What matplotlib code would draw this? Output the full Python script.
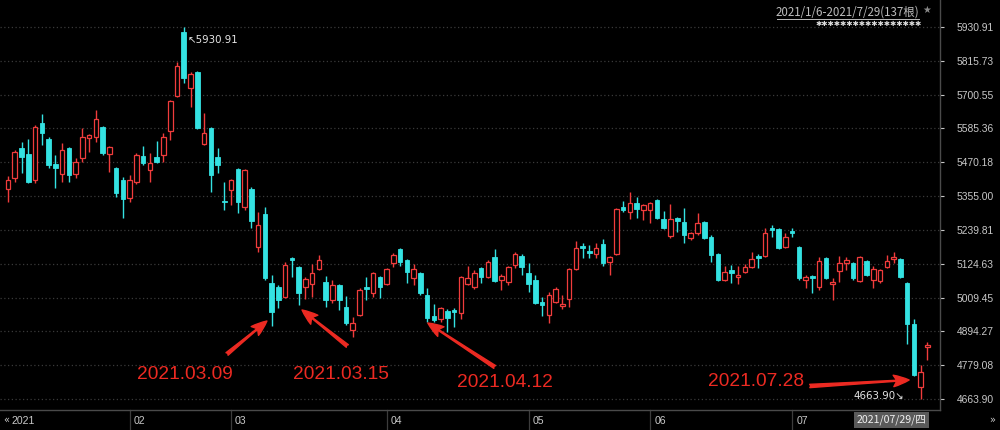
import matplotlib
matplotlib.use("Agg")
import matplotlib.pyplot as plt
import matplotlib.transforms as mtransforms
import numpy as np

# ---------------- data (CSI300 daily, 2021/1/6 - 2021/7/29, 137 bars) ----------------
opens = [5379.2, 5416.6, 5518.8, 5498.4, 5409.8, 5604.0, 5549.5, 5464.3, 5430.3, 5518.8,
         5430.3, 5484.8, 5552.9, 5556.3, 5590.3, 5498.4, 5450.7, 5409.8, 5348.5, 5403.0,
         5491.6, 5443.9, 5488.2, 5495.0, 5576.7, 5695.9, 5913.9, 5723.2, 5777.7, 5532.4,
         5586.9, 5488.2, 5338.3, 5375.8, 5447.3, 5317.9, 5379.2, 5181.6, 5294.0, 5059.0,
         5045.4, 5011.3, 5144.2, 5113.5, 5045.4, 5055.6, 5106.7, 5062.4, 5001.1, 5052.2,
         4977.3, 4898.9, 4950.0, 5045.4, 5024.9, 5079.4, 5055.6, 5127.1, 5174.8, 5137.3,
         5076.0, 5093.1, 5018.1, 4946.6, 4936.4, 4963.6, 4967.0, 4956.8, 5055.6, 5045.4,
         5110.1, 5079.4, 5147.6, 5069.2, 5062.4, 5120.3, 5151.0, 5093.1, 5069.2, 4994.3,
         4950.0, 4994.3, 4980.7, 5004.5, 5106.7, 5185.0, 5168.0, 5157.8, 5191.8, 5130.5,
         5157.8, 5317.9, 5300.8, 5331.5, 5307.6, 5307.6, 5341.7, 5277.0, 5219.1, 5280.4,
         5266.8, 5212.3, 5229.3, 5266.8, 5215.7, 5157.8, 5069.2, 5103.3, 5079.4, 5096.5,
         5113.5, 5151.0, 5151.0, 5246.3, 5242.9, 5181.6, 5236.1, 5181.6, 5069.2, 5082.8,
         5045.4, 5144.2, 5055.6, 5099.9, 5127.1, 5127.1, 5065.8, 5133.9, 5069.2, 5065.8,
         5113.5, 5140.7, 5140.7, 5059.0, 4919.4, 4704.8, 4841.0]
highs = [5423.4, 5512.0, 5539.2, 5549.5, 5597.1, 5634.6, 5556.3, 5495.0, 5535.8, 5522.2,
         5484.8, 5586.9, 5566.5, 5648.2, 5593.7, 5525.6, 5454.1, 5420.0, 5426.8, 5501.8,
         5525.6, 5501.8, 5542.7, 5569.9, 5682.3, 5811.7, 5930.91, 5777.7, 5781.1, 5638.0,
         5590.3, 5518.8, 5403.0, 5413.2, 5450.7, 5447.3, 5386.0, 5300.8, 5317.9, 5086.2,
         5052.2, 5130.5, 5147.6, 5116.9, 5079.4, 5123.7, 5154.4, 5082.8, 5069.2, 5055.6,
         5014.7, 4943.2, 5042.0, 5079.4, 5096.5, 5082.8, 5110.1, 5161.2, 5178.2, 5140.7,
         5123.7, 5096.5, 5042.0, 4987.5, 4977.3, 4970.5, 4973.9, 5082.8, 5116.9, 5103.3,
         5113.5, 5137.3, 5174.8, 5089.7, 5116.9, 5164.6, 5157.8, 5127.1, 5086.2, 5011.3,
         5028.3, 5045.4, 5018.1, 5110.1, 5202.1, 5195.2, 5188.4, 5195.2, 5208.9, 5151.0,
         5314.4, 5338.3, 5368.9, 5351.9, 5328.1, 5334.9, 5345.1, 5304.2, 5328.1, 5283.8,
         5314.4, 5232.7, 5297.4, 5270.2, 5222.5, 5161.2, 5116.9, 5120.3, 5116.9, 5123.7,
         5164.6, 5157.8, 5246.3, 5256.5, 5246.3, 5229.3, 5246.3, 5185.0, 5086.2, 5086.2,
         5147.6, 5147.6, 5076.0, 5151.0, 5147.6, 5130.5, 5151.0, 5137.3, 5116.9, 5106.7,
         5154.4, 5164.6, 5144.2, 5062.4, 4936.4, 4779.7, 4858.0]
lows = [5334.9, 5403.0, 5433.7, 5399.6, 5399.6, 5529.0, 5450.7, 5382.6, 5403.0, 5403.0,
        5416.6, 5471.1, 5505.2, 5539.2, 5495.0, 5437.1, 5351.9, 5280.4, 5334.9, 5396.2,
        5460.9, 5403.0, 5467.7, 5471.1, 5546.1, 5692.5, 5740.2, 5658.5, 5583.5, 5529.0,
        5368.9, 5433.7, 5307.6, 5324.7, 5297.4, 5307.6, 5246.3, 5164.6, 5069.2, 4912.5,
        4973.9, 5007.9, 5079.4, 4984.1, 5004.5, 5011.3, 5103.3, 4977.3, 4990.9, 4967.0,
        4916.0, 4875.1, 4946.6, 5001.1, 5011.3, 5007.9, 5052.2, 5113.5, 5116.9, 5059.0,
        5052.2, 5018.1, 4926.2, 4926.2, 4926.2, 4892.1, 4909.1, 4936.4, 5052.2, 5038.6,
        5059.0, 5076.0, 5062.4, 5035.2, 5052.2, 5110.1, 5086.2, 5028.3, 4987.5, 4946.6,
        4922.8, 4990.9, 4970.5, 4977.3, 5103.3, 5144.2, 5144.2, 5144.2, 5116.9, 5086.2,
        5154.4, 5300.8, 5277.0, 5280.4, 5273.6, 5263.4, 5277.0, 5242.9, 5212.3, 5232.7,
        5195.2, 5205.5, 5222.5, 5208.9, 5130.5, 5065.8, 5065.8, 5059.0, 5055.6, 5093.1,
        5110.1, 5110.1, 5147.6, 5215.7, 5174.8, 5178.2, 5215.7, 5069.2, 5042.0, 5024.9,
        5035.2, 5072.6, 5001.1, 5062.4, 5103.3, 5069.2, 5062.4, 5082.8, 5042.0, 5059.0,
        5110.1, 5127.1, 5076.0, 4851.2, 4742.2, 4663.90, 4796.7]
closes = [5409.8, 5505.2, 5488.2, 5403.0, 5590.3, 5569.9, 5460.9, 5450.7, 5512.0, 5426.8,
          5471.1, 5556.3, 5563.1, 5617.6, 5501.8, 5522.2, 5365.5, 5345.1, 5409.8, 5495.0,
          5467.7, 5467.7, 5471.1, 5556.3, 5678.9, 5798.1, 5757.2, 5770.9, 5586.9, 5569.9,
          5426.8, 5460.9, 5334.9, 5409.8, 5334.9, 5443.9, 5270.2, 5256.5, 5076.0, 4960.2,
          5001.1, 5120.3, 5137.3, 5024.9, 5072.6, 5093.1, 5137.3, 5001.1, 5052.2, 5001.1,
          4922.8, 4922.8, 5035.2, 5038.6, 5093.1, 5045.4, 5106.7, 5154.4, 5130.5, 5096.5,
          5106.7, 5024.9, 4939.8, 4933.0, 4973.9, 4939.8, 4960.2, 5079.4, 5076.0, 5093.1,
          5079.4, 5130.5, 5065.8, 5082.8, 5113.5, 5157.8, 5113.5, 5055.6, 4990.9, 4984.1,
          5018.1, 5038.6, 4987.5, 5106.7, 5178.2, 5178.2, 5161.2, 5178.2, 5127.1, 5147.6,
          5311.0, 5307.6, 5331.5, 5311.0, 5324.7, 5331.5, 5280.4, 5246.3, 5277.0, 5270.2,
          5222.5, 5229.3, 5263.4, 5212.3, 5154.4, 5069.2, 5096.5, 5093.1, 5086.2, 5113.5,
          5140.7, 5144.2, 5229.3, 5239.5, 5178.2, 5215.7, 5229.3, 5076.0, 5079.4, 5076.0,
          5133.9, 5076.0, 5062.4, 5127.1, 5137.3, 5076.0, 5147.6, 5086.2, 5106.7, 5103.3,
          5133.9, 5147.6, 5079.4, 4919.4, 4745.6, 4755.8, 4847.8]

y_ticks = [5930.91, 5815.73, 5700.55, 5585.36, 5470.18, 5355.00,
           5239.81, 5124.63, 5009.45, 4894.27, 4779.08, 4663.90]
month_labels = ["2021", "02", "03", "04", "05", "06", "07"]
month_start_idx = [0, 18, 33, 56, 77, 95, 116]

ann_labels = ["2021.03.09", "2021.03.15", "2021.04.12", "2021.07.28"]
ann_tip = [(38.3, 4929.5), (43.5, 4967.0), (62.1, 4922.7), (133.3, 4728.6)]
ann_tail = [(32.4, 4817.2), (50.2, 4844.4), (72.0, 4772.9), (118.6, 4708.2)]
ann_text = [(26.2, 4749.0), (49.3, 4749.0), (73.5, 4718.4), (110.7, 4721.8)]

range_text = "2021/1/6-2021/7/29(137根)"
cursor_date = "2021/07/29/四"

# ---------------- style ----------------
BG = "black"
UP = "#f03c3c"
DOWN = "#34e2e2"
GRID = "#3a3a3a"
AXC = "#c8c8c8"
ANN = "#ec2a22"

fig = plt.figure(figsize=(10, 4.3), dpi=100, facecolor=BG)
ax = fig.add_axes([0, 20 / 430, 0.94, 410 / 430], facecolor=BG)

o = np.array(opens); h = np.array(highs); l = np.array(lows); c = np.array(closes)
x = np.arange(len(o))
up = c >= o
min_h = 3.0
bottoms = np.minimum(o, c)
heights = np.maximum(np.abs(c - o), min_h)
width = 0.68

# wicks
ax.vlines(x[up], l[up], h[up], color=UP, lw=1.0, zorder=2)
ax.vlines(x[~up], l[~up], h[~up], color=DOWN, lw=1.0, zorder=2)
# bodies
ax.bar(x[up], heights[up], width, bottom=bottoms[up], facecolor=BG,
       edgecolor=UP, linewidth=0.9, zorder=3)
ax.bar(x[~up], heights[~up], width, bottom=bottoms[~up], facecolor=DOWN,
       edgecolor=DOWN, linewidth=0.6, zorder=3)

ax.set_xlim(-8 / 6.76, (940 - 8) / 6.76)
ax.set_ylim(4626.4, 6022.87)

# grid
ax.set_yticks(y_ticks)
ax.set_yticklabels([f"{v:.2f}" for v in y_ticks])
ax.yaxis.tick_right()
ax.tick_params(axis="y", direction="out", length=3, pad=9, colors=AXC,
               labelsize=7.4, width=0.8)
for lab in ax.get_yticklabels():
    lab.set_fontfamily("Liberation Sans")
    lab.set_color(AXC)
ax.yaxis.grid(True, color=GRID, linestyle=(0, (1, 2)), linewidth=0.9)
ax.set_axisbelow(True)

for s in ["left", "top"]:
    ax.spines[s].set_visible(False)
ax.spines["right"].set_color("#4a4a4a")
ax.spines["bottom"].set_color("#4a4a4a")
ax.spines["right"].set_linewidth(1.0)
ax.spines["bottom"].set_linewidth(1.0)

# x month labels
ax.set_xticks(month_start_idx)
ax.set_xticklabels(month_labels)
ax.tick_params(axis="x", length=0, pad=4, colors=AXC, labelsize=7.6)
offset = mtransforms.ScaledTranslation(4 / 100, 0, fig.dpi_scale_trans)
for lab in ax.get_xticklabels():
    lab.set_horizontalalignment("left")
    lab.set_transform(lab.get_transform() + offset)
    lab.set_fontfamily("Liberation Sans")
trans = mtransforms.blended_transform_factory(ax.transData, ax.transAxes)
for mi in month_start_idx[1:]:
    ax.plot([mi, mi], [0, -20 / 410], transform=trans, color="#3c3c3c",
            lw=0.9, clip_on=False)

# extreme labels
imax = int(np.argmax(h)); imin = int(np.argmin(l))
ax.annotate(f"↖{h[imax]:.2f}", xy=(imax, h[imax]), xytext=(4, -13),
            textcoords="offset pixels", ha="left", va="center",
            color="#e6e6e6", fontsize=7.4, family="DejaVu Sans")
ax.annotate(f"{l[imin]:.2f}↘", xy=(imin, l[imin]), xytext=(-16, 3),
            textcoords="offset pixels", ha="right", va="center",
            color="#e6e6e6", fontsize=7.4, family="DejaVu Sans")

# red annotations
for lab, tip, tail, tp in zip(ann_labels, ann_tip, ann_tail, ann_text):
    ax.annotate("", xy=tip, xytext=tail,
                arrowprops=dict(arrowstyle="fancy,head_length=0.75,head_width=0.55,tail_width=0.16",
                                color=ANN, mutation_scale=15, shrinkA=0, shrinkB=0),
                zorder=5)
    ax.text(tp[0], tp[1], lab, color=ANN, fontsize=13.8, ha="center", va="center",
            family="Liberation Sans", zorder=5)

# header text top right
fig.text(0.919, 1 - 12 / 430, range_text, ha="right", va="center", color="#bdbdbd",
         fontsize=8.3, family=["Noto Sans CJK SC", "DejaVu Sans"])
fig.add_artist(plt.Line2D([0.777, 0.919], [1 - 18.5 / 430, 1 - 18.5 / 430],
                          color="#bdbdbd", lw=0.7))
fig.text(0.927, 1 - 10 / 430, "★", ha="center", va="center", color="#8a8a8a",
         fontsize=7, family="DejaVu Sans")
fig.text(0.922, 1 - 24 / 430, "✱" * 17, ha="right", va="center", color="#e0e0e0",
         fontsize=5.4, family="DejaVu Sans")

# bottom strip
fig.text(0.003, 1 - 420 / 430, "«", ha="left", va="center", color=AXC, fontsize=7)
fig.text(0.992, 1 - 420 / 430, "»", ha="center", va="center", color=AXC, fontsize=7)
fig.text(0.8915, 1 - 420 / 430, cursor_date, ha="center", va="center", color="#f0f0f0",
         fontsize=7.6, family=["Noto Sans CJK SC", "DejaVu Sans"],
         bbox=dict(boxstyle="square,pad=0.25", facecolor="#5a5a5a", edgecolor="none"))

fig.savefig("out.png", dpi=100, facecolor=BG)
